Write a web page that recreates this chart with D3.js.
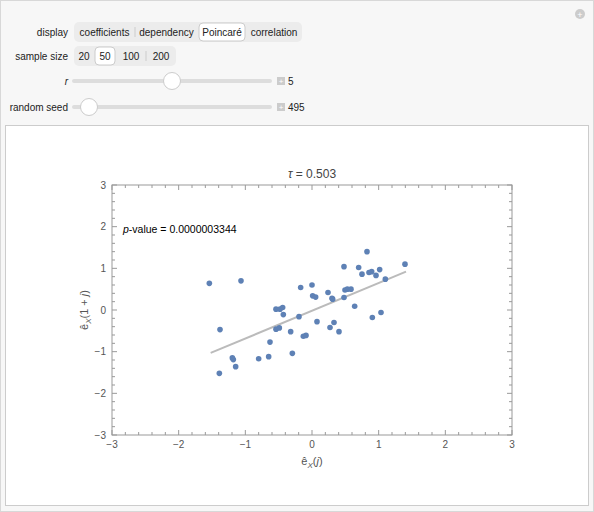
<!DOCTYPE html><html><head><meta charset="utf-8">
<script src="https://cdn.jsdelivr.net/npm/d3@7"></script>
<style>body{margin:0;font-family:"Liberation Sans",Arial,sans-serif;}</style></head><body>
<script>
const xVals=[-1.54,-1.065,-1.38,-1.195,-1.18,-1.145,-1.39,-0.80,-0.65,-0.63,-0.54,-0.48,-0.44,-0.43,-0.54,-0.49,-0.32,-0.295,-0.195,-0.17,-0.13,-0.09,0.0,0.01,0.055,0.075,0.24,0.30,0.31,0.27,0.33,0.405,0.48,0.48,0.495,0.53,0.585,0.64,0.70,0.75,0.825,0.855,0.895,0.905,0.96,1.015,1.035,1.10,1.395];
const yVals=[0.64,0.70,-0.47,-1.15,-1.19,-1.36,-1.52,-1.17,-1.12,-0.77,0.02,0.02,0.06,-0.11,-0.46,-0.43,-0.52,-1.04,-0.16,0.54,-0.63,-0.61,0.60,0.34,0.31,-0.28,0.42,0.28,0.26,-0.42,-0.30,-0.52,1.04,0.30,0.48,0.50,0.50,0.09,1.02,0.86,1.40,0.90,0.92,-0.18,0.83,0.97,-0.06,0.74,1.10];
const fitX=[-1.52,1.41];
const fitY=[-1.03,0.92];
const ticks=[-3,-2,-1,0,1,2,3];
const displayOpts=["coefficients","dependency","Poincaré","correlation"];
const sizeOpts=["20","50","100","200"];
const W=594,H=512;
const svg=d3.select("body").append("svg").attr("width",W).attr("height",H);
svg.append("rect").attr("width",W).attr("height",H).attr("fill","#f7f7f7");
svg.append("rect").attr("x",0.5).attr("y",0.5).attr("width",W-1).attr("height",H-1).attr("fill","none").attr("stroke","#d8d8d8");
svg.append("circle").attr("cx",580).attr("cy",14).attr("r",5).attr("fill","#ccc");
svg.append("text").attr("x",580).attr("y",17.5).attr("text-anchor","middle").attr("font-size",9).attr("fill","#fff").text("+");
const fs=10;
function label(x,y,t,it){svg.append("text").attr("x",x).attr("y",y).attr("text-anchor","end").attr("font-size",fs).attr("fill","#222").attr("font-style",it?"italic":null).text(t);}
label(68,36,"display");label(68,60,"sample size");label(68,85,"r",true);label(68,111,"random seed");
function seg(x0,y,opts,widths,sel){
  const tot=d3.sum(widths);
  svg.append("rect").attr("x",x0).attr("y",y-10).attr("width",tot).attr("height",20).attr("rx",5).attr("fill","#ececec");
  let x=x0;
  opts.forEach((o,i)=>{
    if(i===sel){svg.append("rect").attr("x",x+1).attr("y",y-9).attr("width",widths[i]-2).attr("height",18).attr("rx",4).attr("fill","#fff").attr("stroke","#ccc");}
    else if(i>0&&i!==sel+1){svg.append("line").attr("x1",x).attr("x2",x).attr("y1",y-5).attr("y2",y+5).attr("stroke","#ccc");}
    svg.append("text").attr("x",x+widths[i]/2).attr("y",y+3.5).attr("text-anchor","middle").attr("font-size",fs).attr("fill","#222").text(o);
    x+=widths[i];
  });
}
seg(74,32,displayOpts,[61,63,48,56],2);
seg(74,56,sizeOpts,[20,22,30,30],1);
function slider(y,pos,val){
  svg.append("rect").attr("x",72).attr("y",y-2).attr("width",200).attr("height",4).attr("rx",2).attr("fill","#ddd");
  svg.append("circle").attr("cx",pos).attr("cy",y).attr("r",8.5).attr("fill","#fff").attr("stroke","#ccc");
  svg.append("rect").attr("x",277).attr("y",y-4).attr("width",8).attr("height",8).attr("fill","#ccc");
  svg.append("text").attr("x",281).attr("y",y+3).attr("text-anchor","middle").attr("font-size",8).attr("fill","#fff").text("+");
  svg.append("text").attr("x",288).attr("y",y+4).attr("font-size",fs).attr("fill","#222").text(val);
}
slider(81,172,"5");slider(107,89,"495");
svg.append("rect").attr("x",5.5).attr("y",125.5).attr("width",583).attr("height",380).attr("fill","#fff").attr("stroke","#ccc");
const x=d3.scaleLinear().domain([-3,3]).range([112,512]);
const y=d3.scaleLinear().domain([-3,3]).range([435,185]);
const g=svg.append("g");
const minor=d3.range(-3,3.01,0.2);
function addTicks(){
  minor.forEach(v=>{
    const major=Math.abs(v-Math.round(v))<1e-6, L=major?5:3;
    g.append("line").attr("x1",x(v)).attr("x2",x(v)).attr("y1",435).attr("y2",435-L).attr("stroke","#999");
    g.append("line").attr("x1",x(v)).attr("x2",x(v)).attr("y1",185).attr("y2",185+L).attr("stroke","#999");
    g.append("line").attr("y1",y(v)).attr("y2",y(v)).attr("x1",112).attr("x2",112+L).attr("stroke","#999");
    g.append("line").attr("y1",y(v)).attr("y2",y(v)).attr("x1",512).attr("x2",512-L).attr("stroke","#999");
  });
}
g.append("rect").attr("x",112).attr("y",185).attr("width",400).attr("height",250).attr("fill","none").attr("stroke","#999");
addTicks();
ticks.forEach(t=>{
  g.append("text").attr("x",x(t)).attr("y",448).attr("text-anchor","middle").attr("font-size",10).attr("fill","#555").text(t===0?"0":(t<0?"−"+(-t):t));
  g.append("text").attr("x",106).attr("y",y(t)+3.5).attr("text-anchor","end").attr("font-size",10).attr("fill","#555").text(t===0?"0":(t<0?"−"+(-t):t));
});
g.append("line").attr("x1",x(fitX[0])).attr("y1",y(fitY[0])).attr("x2",x(fitX[1])).attr("y2",y(fitY[1])).attr("stroke","#bbb").attr("stroke-width",2);
g.selectAll(".p").data(xVals).enter().append("circle").attr("cx",d=>x(d)).attr("cy",(d,i)=>y(yVals[i])).attr("r",2.8).attr("fill","#5e81b5");
g.append("text").attr("x",312).attr("y",178).attr("text-anchor","middle").attr("font-size",12).attr("fill","#444").html('<tspan font-style="italic">τ</tspan> = 0.503');
g.append("text").attr("x",123).attr("y",233).attr("font-size",10.5).attr("fill","#000").html('<tspan font-style="italic">p</tspan>-value = 0.0000003344');
g.append("text").attr("x",312).attr("y",465).attr("text-anchor","middle").attr("font-size",11).attr("fill","#555").html('ê<tspan font-size="8" dy="3" font-style="italic">X</tspan><tspan dy="-3">(</tspan><tspan font-style="italic">j</tspan>)');
g.append("text").attr("transform","translate(88,310) rotate(-90)").attr("text-anchor","middle").attr("font-size",11).attr("fill","#555").html('ê<tspan font-size="8" dy="3" font-style="italic">X</tspan><tspan dy="-3">(1 + </tspan><tspan font-style="italic">j</tspan>)');
</script></body></html>
